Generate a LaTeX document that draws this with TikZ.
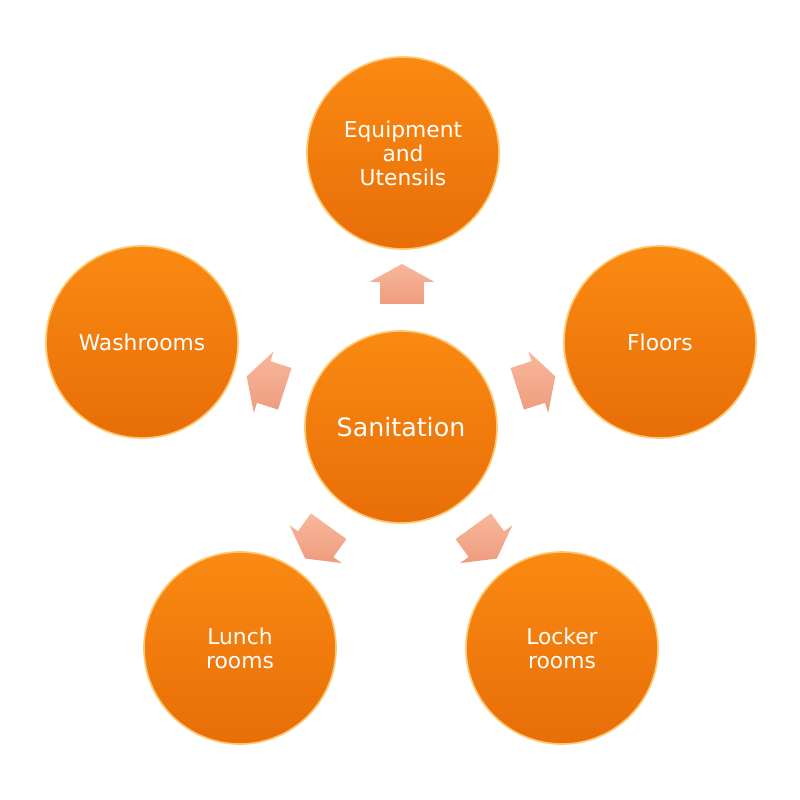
\documentclass[tikz,border=0pt]{standalone}
\usepackage{fontspec}
\setmainfont{DejaVu Sans}
\usepackage{xcolor}
\usetikzlibrary{shapes.arrows, calc}

\definecolor{orangetop}{HTML}{FA8A12}
\definecolor{orangebot}{HTML}{E86E08}
\definecolor{orangerim}{HTML}{FFC870}
\definecolor{salmontop}{HTML}{F8B89C}
\definecolor{salmonbot}{HTML}{EE9C7E}

\begin{document}
\begin{tikzpicture}[
    area/.style={
      circle, draw=orangerim, line width=1.2pt,
      top color=orangetop, bottom color=orangebot,
      minimum size=4.8cm, inner sep=2pt,
      text=white, align=center, font=\fontsize{15.5}{17}\selectfont
    },
    hub/.style={area, font=\fontsize{18}{20}\selectfont},
    flow/.style={
      single arrow, draw=none,
      top color=salmontop, bottom color=salmonbot,
      minimum height=1.0cm,
      single arrow head extend=0.26cm, single arrow tip angle=122,
      inner xsep=0pt, inner ysep=0.54cm
    },
  ]
  \useasboundingbox (-10.025,-9.325) rectangle (9.975,10.675);

  \node[hub] (san) at (0,0) {Sanitation};

  \node[area] (equip)  at (0.05,6.85)     {Equipment\\and\\Utensils};
  \node[area] (wash)   at (-6.475,2.125)  {Washrooms};
  \node[area] (floors) at (6.475,2.125)   {Floors};
  \node[area] (lunch)  at (-4.025,-5.525) {Lunch\\rooms};
  \node[area] (locker) at (4.025,-5.525)  {Locker\\rooms};

  \node[flow, rotate=90]   (a1) at ($(san)!0.5!(equip)$)  {};
  \node[flow, rotate=162]  (a2) at ($(san)!0.5!(wash)$)   {};
  \node[flow, rotate=18]   (a3) at ($(san)!0.5!(floors)$) {};
  \node[flow, rotate=-126] (a4) at ($(san)!0.5!(lunch)$)  {};
  \node[flow, rotate=-54]  (a5) at ($(san)!0.5!(locker)$) {};
\end{tikzpicture}
\end{document}
